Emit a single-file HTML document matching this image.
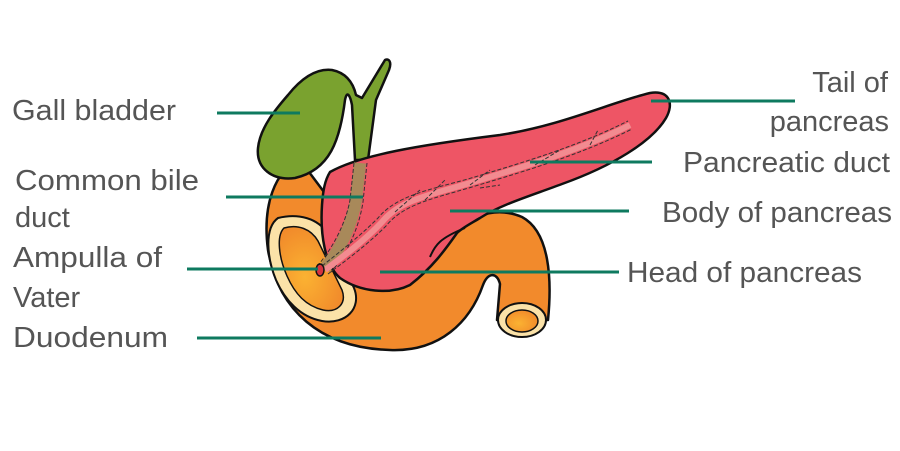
<!DOCTYPE html>
<html><head><meta charset="utf-8"><style>
html,body{margin:0;padding:0;background:#fff;width:900px;height:451px;overflow:hidden}
text{font-family:"Liberation Sans",sans-serif;font-size:29px;fill:#555}
</style></head><body>
<svg width="900" height="451" viewBox="0 0 900 451" xmlns="http://www.w3.org/2000/svg">
<defs>
<radialGradient id="og" cx="0.4" cy="0.6" r="0.7"><stop offset="0" stop-color="#fbb232"/><stop offset="1" stop-color="#f0862a"/></radialGradient>
</defs>
<!-- duodenum -->
<path d="M300,160 C275,170 262,205 268,250 C278,310 320,348 390,350 C440,352 470,322 483,285 C488,272 497,272 500,284 L497,320 L548,320 C552,280 550,232 522,217 C492,204 462,220 440,240 L330,200 Z" fill="#f28a2c" stroke="#111" stroke-width="2.5" stroke-linejoin="round"/>
<ellipse cx="522" cy="320" rx="24" ry="17" fill="#fbe2a8" stroke="#111" stroke-width="2"/>
<ellipse cx="522" cy="321" rx="16" ry="11" fill="url(#og)" stroke="#111" stroke-width="1.5"/>
<!-- cut ring -->
<path d="M278,218 C298,213 318,218 328,234 L354,288 C362,308 346,325 322,321 C300,317 285,300 276,280 C267,258 264,228 278,218 Z" fill="#fbe2a8" stroke="#111" stroke-width="2"/>
<path d="M284,228 C298,224 311,229 318,241 L342,290 C347,304 337,313 323,310 C306,306 295,294 287,276 C279,258 276,236 284,228 Z" fill="url(#og)" stroke="#111" stroke-width="1.5"/>
<!-- gallbladder + ducts -->
<path d="M385,60 C389,58 392,62 389,70 L376,100 L368,160 L355,160 L352,105 C350,95 347,90 345,100 C340,140 330,170 295,178 C272,181 256,168 258,148 C260,128 275,110 288,95 C300,80 315,68 332,70 C342,72 352,78 356,95 L362,98 Z" fill="#7aa22f" stroke="#111" stroke-width="2.5" stroke-linejoin="round"/>
<!-- pancreas -->
<path d="M330,172 C360,155 420,145 500,135 C560,126 612,102 650,93 C670,90 674,104 666,118 C652,142 612,166 562,184 C530,196 500,205 480,218 C470,224 462,228 457,233 C445,250 432,268 410,285 C390,295 360,292 340,278 C325,265 320,235 322,205 C323,190 325,180 330,172 Z" fill="#ee5565" stroke="#111" stroke-width="2.5" stroke-linejoin="round"/>
<path d="M430,257 C435,245 440,238 465,228" fill="none" stroke="#111" stroke-width="2"/>
<!-- bile duct in pancreas -->
<path d="M360,163 L356,200 C352,225 340,250 325,268" fill="none" stroke="#a8895a" stroke-width="12"/>
<path d="M354,163 L350,200 C346,222 334,246 319,264 M367,163 L363,202 C359,228 347,254 331,272" fill="none" stroke="#333" stroke-width="1" stroke-dasharray="4,2"/>
<!-- pancreatic duct -->
<path d="M325,270 C345,255 365,240 382,222 C400,200 430,195 470,183 C530,165 580,150 630,125" fill="none" stroke="#f28b90" stroke-width="6"/>
<path d="M322,266 C342,250 360,236 378,218 C396,196 428,190 468,179 C528,161 578,146 628,121 M328,274 C348,259 368,244 386,226 C404,204 432,199 472,187 C532,169 582,154 632,129 M395,212 L420,190 M425,200 L445,180 M470,185 L490,170 M535,165 L560,150 M590,145 L598,130 M480,188 L500,185" fill="none" stroke="#333" stroke-width="1" stroke-dasharray="4,2"/>
<!-- ampulla -->
<ellipse cx="320" cy="270" rx="4" ry="6" fill="#d5333f" stroke="#111" stroke-width="1.5"/>
<!-- leader lines -->
<g stroke="#0e7a5f" stroke-width="3">
<line x1="217" y1="113" x2="300" y2="113"/>
<line x1="226" y1="197" x2="363" y2="197"/>
<line x1="187" y1="269" x2="318" y2="269"/>
<line x1="197" y1="338" x2="381" y2="338"/>
<line x1="651" y1="101" x2="795" y2="101"/>
<line x1="530" y1="162" x2="652" y2="162"/>
<line x1="450" y1="211" x2="629" y2="211"/>
<line x1="380" y1="272" x2="619" y2="272"/>
</g>
<!-- labels -->
<text x="12" y="120" textLength="164" lengthAdjust="spacingAndGlyphs">Gall bladder</text>
<text x="15" y="190" textLength="184" lengthAdjust="spacingAndGlyphs">Common bile</text>
<text x="15" y="227">duct</text>
<text x="13" y="267" textLength="149" lengthAdjust="spacingAndGlyphs">Ampulla of</text>
<text x="13" y="307">Vater</text>
<text x="13" y="347" textLength="155" lengthAdjust="spacingAndGlyphs">Duodenum</text>
<text x="888" y="92" text-anchor="end">Tail of</text>
<text x="889" y="131" text-anchor="end">pancreas</text>
<text x="683" y="172" textLength="207" lengthAdjust="spacingAndGlyphs">Pancreatic duct</text>
<text x="662" y="222" textLength="230" lengthAdjust="spacingAndGlyphs">Body of pancreas</text>
<text x="627" y="282" textLength="235" lengthAdjust="spacingAndGlyphs">Head of pancreas</text>
</svg>
</body></html>
